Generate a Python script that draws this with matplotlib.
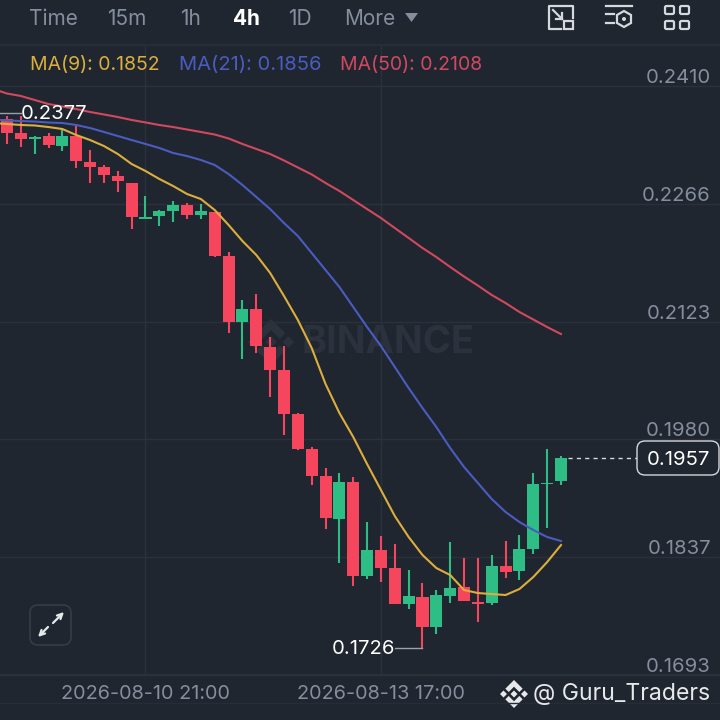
import matplotlib
matplotlib.use("Agg")
import matplotlib.pyplot as plt
from matplotlib.patches import FancyBboxPatch, Polygon, Rectangle, Circle

plt.rcParams['font.family'] = ['Inter', 'DejaVu Sans']

BG = '#1f2630'
GRID = '#2a313b'
UP = '#2ebd85'
DOWN = '#f6465d'

# candles, oldest first
opens = [0.23695, 0.23524, 0.23451, 0.23488, 0.23366, 0.23488, 0.23171, 0.23111, 0.23001, 0.22916,
         0.22478, 0.22514, 0.22575, 0.22648, 0.22526, 0.22563, 0.22027, 0.21224, 0.21382, 0.20920,
         0.20640, 0.20105, 0.19679, 0.19350, 0.18827, 0.19277, 0.18133, 0.18449, 0.18230, 0.17792,
         0.17878, 0.17512, 0.17890, 0.17999, 0.17817, 0.17804, 0.18255, 0.18194, 0.18462, 0.19253, 0.19289]
highs = [0.23731, 0.23731, 0.23488, 0.23524, 0.23573, 0.23634, 0.23317, 0.23135, 0.23062, 0.22916,
         0.22758, 0.22587, 0.22697, 0.22672, 0.22660, 0.22563, 0.22076, 0.21492, 0.21565, 0.21042,
         0.20932, 0.20117, 0.19703, 0.19447, 0.19387, 0.19338, 0.18790, 0.18620, 0.18523, 0.18206,
         0.18048, 0.17963, 0.18547, 0.18352, 0.18352, 0.18389, 0.18559, 0.18632, 0.19387, 0.19679, 0.19593]
lows = [0.23391, 0.23354, 0.23269, 0.23342, 0.23305, 0.23098, 0.22916, 0.22916, 0.22806, 0.22356,
        0.22478, 0.22393, 0.22441, 0.22478, 0.22478, 0.22015, 0.21090, 0.20774, 0.20847, 0.20312,
        0.19849, 0.19666, 0.19241, 0.18705, 0.18291, 0.18011, 0.18097, 0.18060, 0.17792, 0.17731,
        0.17257, 0.17427, 0.17804, 0.17829, 0.17573, 0.17780, 0.18109, 0.18084, 0.18401, 0.18717, 0.19241]
closes = [0.23524, 0.23451, 0.23476, 0.23378, 0.23488, 0.23184, 0.23111, 0.23013, 0.22940, 0.22502,
          0.22502, 0.22575, 0.22648, 0.22526, 0.22575, 0.22027, 0.21224, 0.21382, 0.20932, 0.20640,
          0.20105, 0.19679, 0.19350, 0.18839, 0.19277, 0.18133, 0.18449, 0.18230, 0.17792, 0.17890,
          0.17512, 0.17902, 0.17987, 0.17829, 0.17792, 0.18255, 0.18182, 0.18462, 0.19253, 0.19265, 0.19569]

# moving averages start one candle before the first visible one
ma_idx = list(range(-1, 41))
ma9 = [0.23646, 0.23634, 0.23622, 0.23616, 0.23597, 0.23573, 0.23500, 0.23439, 0.23366, 0.23269, 0.23147,
       0.23062, 0.22965, 0.22879, 0.22782, 0.22721, 0.22587, 0.22405, 0.22210, 0.22040, 0.21821,
       0.21541, 0.21249, 0.20908, 0.20470, 0.20117, 0.19825, 0.19496, 0.19180, 0.18863, 0.18608,
       0.18389, 0.18230, 0.18145, 0.17963, 0.17926, 0.17914, 0.17902, 0.17975, 0.18121, 0.18303, 0.18510]
ma21 = [0.23689, 0.23677, 0.23670, 0.23664, 0.23652, 0.23646, 0.23622, 0.23585, 0.23537, 0.23488, 0.23439,
        0.23391, 0.23342, 0.23281, 0.23244, 0.23196, 0.23135, 0.23025, 0.22892, 0.22746, 0.22599,
        0.22429, 0.22271, 0.22064, 0.21857, 0.21650, 0.21407, 0.21163, 0.20932, 0.20677, 0.20421,
        0.20178, 0.19946, 0.19691, 0.19460, 0.19265, 0.19070, 0.18912, 0.18790, 0.18693, 0.18608, 0.18559]
ma50 = [0.24060, 0.24005, 0.23975, 0.23926, 0.23877, 0.23847, 0.23816, 0.23780, 0.23750, 0.23719, 0.23683,
        0.23653, 0.23622, 0.23597, 0.23567, 0.23537, 0.23506, 0.23458, 0.23391, 0.23330, 0.23269,
        0.23190, 0.23105, 0.23020, 0.22916, 0.22819, 0.22709, 0.22599, 0.22490, 0.22368, 0.22247,
        0.22125, 0.22015, 0.21894, 0.21778, 0.21668, 0.21553, 0.21455, 0.21346, 0.21255, 0.21163, 0.21078]

price_ticks = [0.2410, 0.2266, 0.2123, 0.1980, 0.1837, 0.1693]
date_idx = [10, 27]
date_labels = ['2026-08-10 21:00', '2026-08-13 17:00']
last_price = 0.1957
high_price = 0.2377
low_price = 0.1726
tabs = ['Time', '15m', '1h', '4h', '1D', 'More']
tab_x = [29, 107, 180, 233, 288, 344]
legend = ['MA(9): 0.1852', 'MA(21): 0.1856', 'MA(50): 0.2108']
legend_x = [30, 179, 340]
legend_colors = ['#dcae3c', '#4a5cc0', '#d2485f']


def binance_logo(axis, cx, cy, r, color):
    def diamond(x, y, s):
        axis.add_patch(Polygon([(x, y - s), (x + s, y), (x, y + s), (x - s, y)], color=color, lw=0))
    diamond(cx, cy, r * 0.25)
    diamond(cx - r * 0.75, cy, r * 0.25)
    diamond(cx + r * 0.75, cy, r * 0.25)
    for d in (-1, 1):
        axis.add_patch(Polygon([(cx, cy + d * r), (cx + r * 0.62, cy + d * r * 0.38), (cx + r * 0.38, cy + d * r * 0.14),
                                (cx, cy + d * r * 0.52), (cx - r * 0.38, cy + d * r * 0.14),
                                (cx - r * 0.62, cy + d * r * 0.38)], color=color, lw=0))


fig = plt.figure(figsize=(7.2, 7.2), dpi=100, facecolor=BG)

# back layer, watermark sits under the candles
back = fig.add_axes([0, 0, 1, 1], facecolor=BG)
back.set_xlim(0, 720)
back.set_ylim(720, 0)
back.axis('off')
back.text(301, 343, 'BINANCE', color='#2b323d', fontsize=27.3, fontweight='bold', va='center', ha='left')
binance_logo(back, 271, 342, 23, '#2b323d')

ax = fig.add_axes([0, 0, 1, 1], facecolor='none')
ax.set_xlim(-0.505, 51.48)
ax.set_ylim(0.16381, 0.25143)
ax.axis('off')

# grid
for p in price_ticks:
    ax.axhline(p, color=GRID, lw=1, zorder=1)
    ax.annotate(f'{p:.4f}', (51.48, p), xytext=(-9, -1), textcoords='offset pixels', ha='right', va='bottom',
                color='#848e9c', fontsize=14.6)
for i, lab in zip(date_idx, date_labels):
    ax.plot([i, i], [0.1693, 0.2459], color=GRID, lw=1, zorder=1)
    ax.annotate(lab, (i, 0.1693), xytext=(0, -19), textcoords='offset pixels', ha='center', va='center',
                color='#848e9c', fontsize=14.3)

# candles
for i in range(len(opens)):
    col = UP if closes[i] >= opens[i] else DOWN
    ax.plot([i, i], [lows[i], highs[i]], color=col, lw=1.5, solid_capstyle='butt', zorder=3)
    ax.bar(i, abs(closes[i] - opens[i]), bottom=min(opens[i], closes[i]), width=0.87, color=col, lw=0, zorder=3)

ax.plot(ma_idx, ma50, color='#d2485f', lw=1.5, zorder=4)
ax.plot(ma_idx, ma21, color='#4a5cc0', lw=1.5, zorder=4)
ax.plot(ma_idx, ma9, color='#dcae3c', lw=1.5, zorder=4)

# high / low / last price markers
ax.plot([-0.5, 1], [high_price, high_price], color='#9aa1ab', lw=1, zorder=5)
ax.annotate(f'{high_price:.4f}', (1, high_price), xytext=(0, -1), textcoords='offset pixels', ha='left', va='center',
            color='white', fontsize=14.6, zorder=6)
ax.plot([28, 30], [low_price, low_price], color='#9aa1ab', lw=1, zorder=5)
ax.annotate(f'{low_price:.4f}', (28, low_price), xytext=(0, -1), textcoords='offset pixels', ha='right', va='center',
            color='white', fontsize=14.6, zorder=6)
ax.plot([40.5, 45.5], [last_price, last_price], color='#d5d8dc', lw=1, ls=(0, (3, 3)), zorder=5)

# interface on top
ui = fig.add_axes([0, 0, 1, 1], facecolor='none')
ui.set_xlim(0, 720)
ui.set_ylim(720, 0)
ui.axis('off')

ui.plot([0, 720], [45, 45], color='#272e38', lw=1.5)
ui.plot([0, 720], [675, 675], color='#2a313b', lw=1.5)
ui.plot([0, 720], [703, 703], color='#262d37', lw=1)

for t, x in zip(tabs, tab_x):
    ui.text(x, 19, t, color='white' if t == '4h' else '#848e9c', fontsize=15,
            fontweight='bold' if t == '4h' else 'normal', va='center', ha='left')
ui.add_patch(Polygon([(405, 13), (418, 13), (411.5, 22)], color='#848e9c', lw=0))

for t, x, c, fs in zip(legend, legend_x, legend_colors, [14, 14.5, 14]):
    ui.text(x, 65, t, color=c, fontsize=fs, va='center', ha='left')

# last price tag
ui.add_patch(FancyBboxPatch((637, 441), 82, 34, boxstyle='round,pad=0,rounding_size=8', fc=BG, ec='#d5d8dc', lw=1))
ui.text(678, 460, f'{last_price:.4f}', color='white', fontsize=14.6, ha='center', va='center')

# top right icons
ICON = '#d5d8dc'
ui.plot([561, 549, 549, 573, 573], [29, 29, 6, 6, 18], color=ICON, lw=1.6)
ui.plot([553, 562], [10, 19], color=ICON, lw=1.6)
ui.plot([556, 562, 562], [19, 19, 13], color=ICON, lw=1.6)
ui.add_patch(Rectangle((564, 21), 9, 8, fc='none', ec=ICON, lw=1.6))
ui.plot([606, 632], [5.5, 5.5], color=ICON, lw=1.6)
ui.plot([606, 614], [14, 14], color=ICON, lw=1.6)
ui.plot([606, 614], [23, 23], color=ICON, lw=1.6)
ui.add_patch(Polygon([(624, 11), (631, 15), (631, 23), (624, 27), (617, 23), (617, 15)], fc='none', ec=ICON, lw=1.6))
ui.add_patch(Circle((624, 19), 2, fc=ICON, ec='none'))
for x in (665, 680):
    for y in (6, 21):
        ui.add_patch(FancyBboxPatch((x, y), 9, 8, boxstyle='round,pad=0,rounding_size=1.5', fc='none', ec=ICON, lw=1.6))

# expand button
ui.add_patch(FancyBboxPatch((30, 605), 41, 40, boxstyle='round,pad=0,rounding_size=8', fc='none', ec='#353c47', lw=1.2))
ui.annotate('', xy=(64, 612), xytext=(53, 623), arrowprops=dict(arrowstyle='->', color='#e6e8ea', lw=1.6, mutation_scale=9, shrinkA=0, shrinkB=0))
ui.annotate('', xy=(38, 637), xytext=(48, 627), arrowprops=dict(arrowstyle='->', color='#e6e8ea', lw=1.6, mutation_scale=9, shrinkA=0, shrinkB=0))

# credit
binance_logo(ui, 514, 694, 14, '#e6e8ea')
ui.text(533, 694, '@ Guru_Traders', color='#e6e8ea', fontsize=16.6, va='center', ha='left')

fig.savefig('out.png', dpi=100, facecolor=BG)
